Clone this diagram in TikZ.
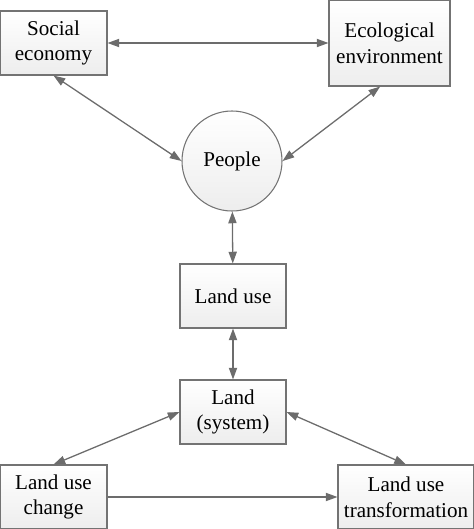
\documentclass[tikz,border=0pt]{standalone}
\usepackage{fontspec}
\setmainfont{Liberation Serif}
\usetikzlibrary{shapes,arrows,arrows.meta,positioning}
\usepackage{xcolor}

\begin{document}
\begin{tikzpicture}[x=0.03cm,y=-0.03cm]
      \tikzstyle{factor} = [rectangle, draw=gray!90!black, line width=0.9pt, top color=white, bottom color=gray!14, align=center, inner sep=0pt, font=\rmfamily\fontsize{18}{22}\selectfont]
      \tikzstyle{link} = [line width=1.1pt, draw=gray!85!black, >={Triangle[length=10pt,width=7pt]}, color=gray!85!black]
      \useasboundingbox (0,0) rectangle (474,529);

      \node[factor, minimum width=3.21cm, minimum height=1.92cm] (social) at (53.5,43) {Social\\economy};
      \node[factor, minimum width=3.63cm, minimum height=2.58cm] (eco) at (389.5,43) {Ecological\\environment};
      \node[factor, circle, minimum size=3cm] (people) at (232,161) {People};
      \node[factor, minimum width=3.18cm, minimum height=1.92cm] (landuse) at (233,296) {Land use};
      \node[factor, minimum width=3.18cm, minimum height=1.92cm] (land) at (233,412) {Land\\(system)};
      \node[factor, minimum width=3.21cm, minimum height=1.92cm] (change) at (53.5,497) {Land use\\change};
      \node[factor, minimum width=4.08cm, minimum height=1.92cm] (transf) at (406,497) {Land use\\transformation};

      \draw[link, <->] (social) -- (eco);
      \draw[link, <->] (social.south) -- (people.west);
      \draw[link, <->] ([xshift=-0.28cm]eco.south) -- (people.east);
      \draw[link, <->] (people) -- (landuse);
      \draw[link, <->] (landuse) -- (land);
      \draw[link, <->] (land.west) -- (change.north);
      \draw[link, <->] (land.east) -- (transf.north);
      \draw[link, ->] (change) -- (transf);
    \end{tikzpicture}
\end{document}
